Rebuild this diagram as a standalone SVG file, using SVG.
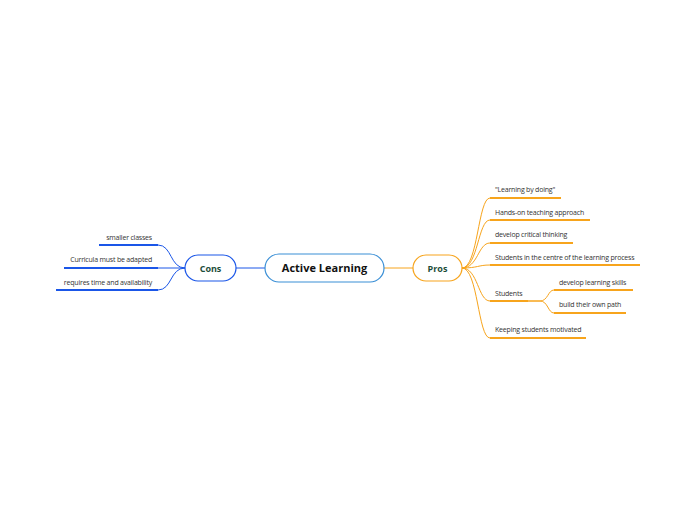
<svg xmlns="http://www.w3.org/2000/svg" width="697" height="520" viewBox="0 0 697 520">
<style>
.t{font-family:"Open Sans","Noto Sans",sans-serif;font-size:7px;fill:#333;letter-spacing:-0.2px}
.o{stroke:#f7a41c;fill:none}
.b{stroke:#1a56e8;fill:none}
.ul-o{stroke:#f7a41c;stroke-width:2}
.ul-b{stroke:#1a56e8;stroke-width:2}
.n{font-family:"Open Sans","Noto Sans",sans-serif;font-weight:bold;fill:#1d4d3a;text-anchor:middle}
</style>
<rect width="697" height="520" fill="#fff"/>
<g id="connectors" stroke-width="1">
<path class="o" d="M384 268H413"/>
<path class="b" d="M236 268H265"/>
<path class="o" d="M462 268C478 268 478 198 490 198"/>
<path class="o" d="M462 268C478 268 478 220 490 220"/>
<path class="o" d="M462 268C478 268 478 243 490 243"/>
<path class="o" d="M462 268C478 268 478 265 490 265"/>
<path class="o" d="M462 268C478 268 478 301 490 301"/>
<path class="o" d="M462 268C478 268 478 338 490 338"/>
<path class="o" d="M528 301H540C548 301 548 290 554 290"/>
<path class="o" d="M528 301H540C548 301 548 313 554 313"/>
<path class="b" d="M185 268C170 268 172 245 158 245"/>
<path class="b" d="M185 268H158"/>
<path class="b" d="M185 268C170 268 172 290 158 290"/>
</g>
<g id="central"><rect x="265" y="254" width="119" height="28" rx="14" fill="#fff" stroke="#3a8fd6" stroke-width="1.2"/><text class="n" x="324.5" y="272" font-size="11" style="fill:#111">Active Learning</text></g>
<g id="pros"><rect x="413" y="255" width="49" height="26" rx="13" fill="#fff" stroke="#f7a41c" stroke-width="1.2"/><text class="n" x="437.5" y="271.5" font-size="9">Pros</text></g>
<g id="cons"><rect x="185" y="255" width="51" height="26" rx="13" fill="#fff" stroke="#1a56e8" stroke-width="1.2"/><text class="n" x="210.5" y="271.5" font-size="9">Cons</text></g>
<g id="p1"><text class="t" x="495" y="192">"Learning by doing"</text><line class="ul-o" x1="490" y1="198" x2="561" y2="198"/></g>
<g id="p2"><text class="t" x="495" y="215">Hands-on teaching approach</text><line class="ul-o" x1="490" y1="220" x2="590" y2="220"/></g>
<g id="p3"><text class="t" x="495" y="237">develop critical thinking</text><line class="ul-o" x1="490" y1="243" x2="573" y2="243"/></g>
<g id="p4"><text class="t" x="495" y="260">Students in the centre of the learning process</text><line class="ul-o" x1="490" y1="265" x2="640" y2="265"/></g>
<g id="p5"><text class="t" x="495" y="296">Students</text><line class="ul-o" x1="490" y1="301" x2="528" y2="301"/></g>
<g id="p51"><text class="t" x="559" y="285">develop learning skills</text><line class="ul-o" x1="554" y1="290" x2="633" y2="290"/></g>
<g id="p52"><text class="t" x="559" y="307">build their own path</text><line class="ul-o" x1="554" y1="313" x2="626" y2="313"/></g>
<g id="p6"><text class="t" x="495" y="332">Keeping students motivated</text><line class="ul-o" x1="490" y1="338" x2="586" y2="338"/></g>
<g id="c1"><text class="t" x="152" y="240" text-anchor="end">smaller classes</text><line class="ul-b" x1="99" y1="245" x2="158" y2="245"/></g>
<g id="c2"><text class="t" x="152" y="262" text-anchor="end">Curricula must be adapted</text><line class="ul-b" x1="64" y1="268" x2="158" y2="268"/></g>
<g id="c3"><text class="t" x="152" y="285" text-anchor="end">requires time and availability</text><line class="ul-b" x1="56" y1="290" x2="158" y2="290"/></g>
</svg>
